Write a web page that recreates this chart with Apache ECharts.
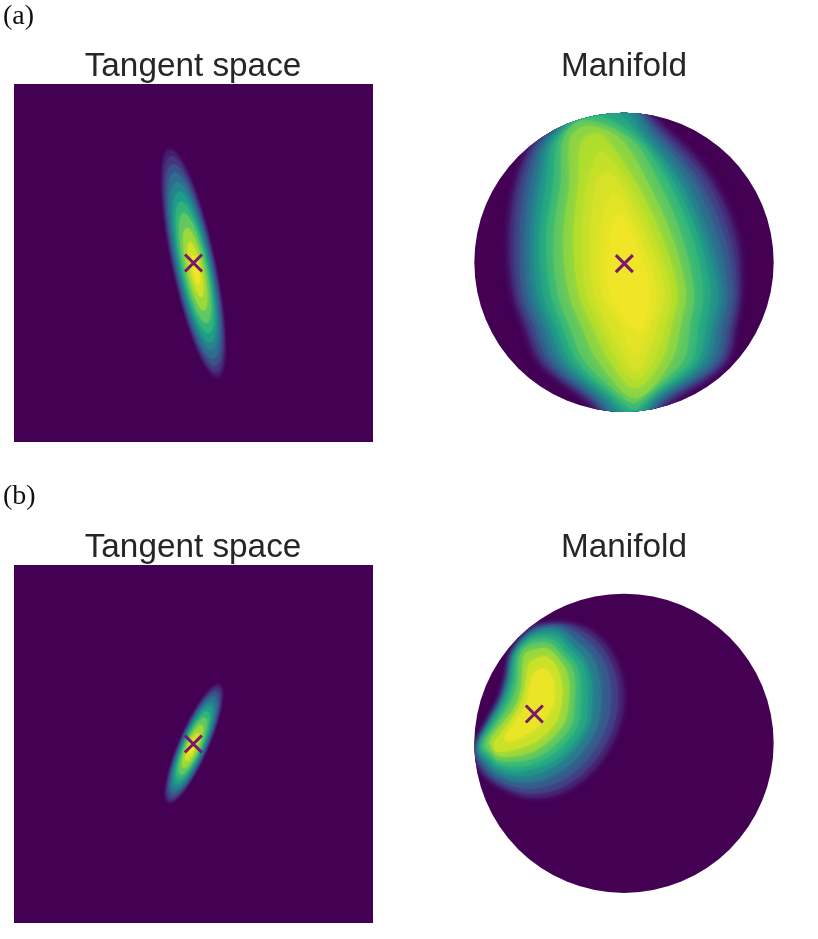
<!DOCTYPE html>
<html lang="en" style="height: 100%">
<head>
  <meta charset="utf-8">
</head>
<body style="height: 100%; margin: 0; background: #fff">
  <div id="container" style="width: 818px; height: 939px"></div>

  <script type="text/javascript" src="https://fastly.jsdelivr.net/npm/echarts@6/dist/echarts.min.js"></script>
  <script type="text/javascript">
    var viridis = ['#440154', '#482878', '#3e4989', '#31688e', '#26828e', '#1f9e89', '#35b779', '#6ece58', '#b5de2b', '#fde725'];

    // tangent space density: nested ellipses (panel pixels)
    var tangentLevels = [0.03, 0.08, 0.15, 0.25, 0.35, 0.45, 0.55, 0.65, 0.75, 0.85, 0.93, 0.98];
    var tangentAX = [179.5, 179.5, 179.7, 180, 180, 180.3, 180.5, 180.7, 181, 181.3, 181.5, 181.7];
    var tangentAY = [179, 179, 180, 181, 181.5, 182, 183, 183.5, 184, 185, 185.5, 186];
    var tangentAMajor = [118, 115, 110, 103, 95, 86, 77, 67, 56, 42, 28, 15];
    var tangentAMinor = [21.5, 21, 20, 19, 17.5, 16, 14.5, 13, 11, 8.5, 5.5, 3];
    var tangentBX = [180, 180, 180, 179.8, 179.6, 179.4, 179.2, 179, 178.8, 178.5, 178.2, 178];
    var tangentBY = [178.7, 178.7, 179, 179.3, 179.6, 180, 180.3, 180.6, 181, 181.4, 181.8, 182];
    var tangentBMajor = [65, 63.6, 60.8, 57, 52.5, 47.6, 42.6, 37, 31, 23.2, 15.5, 8.3];
    var tangentBMinor = [14.5, 14.1, 13.5, 12.8, 11.8, 10.8, 9.8, 8.7, 7.4, 5.7, 3.7, 2];

    // manifold density: contour outlines, x,y pairs
    var manifoldALevels = [0.04, 0.1, 0.18, 0.26, 0.34, 0.42, 0.5, 0.58, 0.66, 0.74, 0.82, 0.88, 0.91, 0.94, 0.96, 0.98];
    var manifoldAContours = [
      [430,-30, 625,100, 733,230, 805,400, 815,560, 799,660, 770,770, 640,870, 470,960, 325,870, 205,770, 159,660, 125,560, 113,400, 137,230, 200,100],
      [430,-30, 610,100, 726,230, 797,400, 808,560, 793,660, 764,770, 625,870, 470,960, 340,870, 212,770, 166,660, 132,560, 120,400, 142,230, 205,100],
      [430,-30, 595,100, 712,230, 782,400, 800,560, 784,660, 755,770, 612,870, 470,960, 350,870, 224,770, 176,660, 142,560, 132,400, 152,230, 212,100],
      [430,-30, 580,100, 690,230, 765,400, 790,560, 774,660, 745,770, 600,870, 470,960, 360,870, 238,770, 190,660, 155,560, 148,400, 166,230, 222,100],
      [435,-30, 565,100, 672,230, 745,400, 773,560, 758,660, 730,770, 585,870, 470,960, 372,870, 252,770, 204,660, 170,560, 163,400, 182,230, 232,100],
      [440,-20, 550,100, 650,230, 722,400, 757,560, 742,660, 715,770, 572,870, 475,960, 385,870, 268,770, 220,660, 185,560, 178,400, 198,230, 240,100],
      [440,-5, 530,100, 630,230, 705,400, 745,560, 728,660, 697,770, 562,870, 490,950, 400,870, 285,770, 236,660, 200,560, 192,400, 212,230, 250,100],
      [420,15, 515,100, 612,230, 688,400, 722,560, 708,660, 682,770, 552,870, 490,935, 415,870, 302,770, 253,660, 218,560, 208,400, 228,230, 258,100],
      [370,30, 500,100, 595,230, 668,400, 700,560, 686,660, 663,770, 535,870, 495,915, 430,870, 322,770, 274,660, 240,560, 228,400, 250,230, 268,100],
      [340,45, 480,100, 567,230, 638,400, 672,560, 660,660, 638,770, 520,870, 490,895, 450,870, 345,770, 297,660, 262,560, 250,400, 272,230, 280,100],
      [350,62, 450,100, 532,230, 608,400, 647,560, 632,660, 603,770, 497,880, 385,770, 333,660, 295,560, 280,400, 298,230, 300,100],
      [380,85, 415,110, 497,230, 578,400, 622,560, 605,660, 573,770, 495,850, 420,770, 365,660, 325,560, 310,400, 325,230, 335,110],
      [395,140, 472,230, 555,400, 603,560, 587,660, 548,770, 495,825, 445,770, 390,660, 348,560, 335,400, 352,230],
      [410,200, 447,230, 532,400, 583,560, 562,660, 523,770, 495,800, 470,770, 412,660, 370,560, 360,400, 380,230],
      [430,265, 510,400, 560,560, 543,650, 495,750, 445,650, 395,560, 390,400],
      [450,330, 490,400, 540,560, 505,680, 420,560, 420,400]
    ];
    var manifoldBLevels = [0.04, 0.08, 0.18, 0.28, 0.4, 0.5, 0.58, 0.66, 0.74, 0.84, 0.92, 0.97];
    var manifoldBContours = [
      [292,37, 370,55, 430,105, 468,180, 482,265, 465,355, 420,445, 355,515, 275,558, 190,565, 110,535, 50,490, 25,425, 60,345, 100,270, 122,200, 135,130, 200,50],
      [290,40, 367,58, 425,108, 462,182, 474,266, 459,354, 414,443, 350,511, 271,554, 188,561, 109,532, 52,488, 27,424, 62,345, 102,270, 123,200, 137,130, 200,53],
      [288,43, 359,66, 414,115, 449,186, 460,267, 445,353, 401,437, 339,503, 263,543, 183,551, 108,524, 55,482, 30,422, 64,345, 104,271, 125,202, 140,130, 201,58],
      [285,48, 348,77, 398,124, 430,192, 437,269, 424,350, 382,429, 322,491, 250,528, 175,536, 106,512, 60,476, 33,420, 67,344, 106,272, 127,204, 143,130, 201,63],
      [280,55, 333,91, 378,136, 403,200, 408,272, 397,347, 357,419, 301,475, 234,509, 165,517, 103,497, 66,468, 38,418, 71,343, 110,274, 131,207, 147,130, 202,68],
      [275,65, 320,105, 359,148, 380,207, 382,274, 373,344, 335,409, 281,461, 219,491, 156,500, 101,483, 72,460, 42,415, 76,343, 113,276, 135,210, 150,130, 202,74],
      [270,75, 312,115, 350,157, 368,213, 368,276, 362,341, 322,405, 268,452, 206,477, 149,485, 99,472, 78,452, 46,413, 81,342, 118,279, 139,214, 155,130, 203,81],
      [262,88, 303,127, 337,167, 347,219, 347,278, 342,339, 304,397, 253,441, 197,465, 141,471, 97,460, 82,445, 50,410, 87,342, 124,281, 146,218, 160,130, 203,90],
      [255,100, 294,138, 324,176, 331,225, 329,280, 322,338, 287,390, 238,430, 185,451, 134,456, 95,449, 84,436, 58,405, 96,341, 132,285, 155,224, 167,130, 204,100],
      [248,116, 284,150, 307,188, 313,232, 311,282, 300,335, 266,380, 220,416, 172,435, 125,441, 93,436, 85,420, 72,395, 110,341, 150,290, 168,235, 178,135, 204,120],
      [240,140, 268,160, 286,200, 292,240, 289,285, 274,332, 242,372, 198,402, 155,416, 118,425, 90,422, 85,405, 95,385, 130,340, 160,295, 178,245, 190,165, 205,150],
      [235,175, 262,205, 268,260, 252,310, 215,352, 170,380, 130,395, 118,385, 150,335, 180,290, 192,240, 205,195]
    ];

    var discA = [462, 472, 449];
    var discB = [477, 400, 449];
    var crossTangentA = [179.5, 179];
    var crossTangentB = [179.3, 179];
    var crossManifoldA = [463, 476];
    var crossManifoldB = [208, 312];
    var crossColor = '#7a1570';

    var myChart = echarts.init(document.getElementById('container'), null, { renderer: 'canvas' });

    function axis(gridIndex, min, max, inverse) {
      return { type: 'value', gridIndex: gridIndex, min: min, max: max, inverse: !!inverse, show: false };
    }

    function ellipseSeries(gridIndex, xs, ys, major, minor, angle) {
      return {
        type: 'custom',
        xAxisIndex: gridIndex,
        yAxisIndex: gridIndex,
        encode: { x: 1, y: 2 },
        z: 3,
        data: tangentLevels.map(function (v, i) { return [v, xs[i], ys[i], major[i], minor[i]]; }),
        renderItem: function (params, api) {
          var c = api.coord([api.value(1), api.value(2)]);
          var s = api.size([api.value(4), api.value(3)]);
          var color = api.visual('color');
          return {
            type: 'ellipse',
            x: c[0],
            y: c[1],
            rotation: angle * Math.PI / 180,
            shape: { cx: 0, cy: 0, rx: s[0], ry: s[1] },
            style: { fill: color, shadowBlur: 3, shadowColor: color }
          };
        }
      };
    }

    function contourSeries(gridIndex, levels, contours, disc, blur) {
      return {
        type: 'custom',
        xAxisIndex: gridIndex,
        yAxisIndex: gridIndex,
        z: 3,
        data: levels.map(function (v) { return [v, 0]; }),
        renderItem: function (params, api) {
          var flat = contours[params.dataIndex];
          var points = [];
          for (var i = 0; i < flat.length; i += 2) {
            points.push(api.coord([flat[i], flat[i + 1]]));
          }
          var c = api.coord([disc[0], disc[1]]);
          var color = api.visual('color');
          return {
            type: 'polygon',
            shape: { points: points, smooth: 0.33, smoothConstraint: false },
            clipPath: { type: 'circle', shape: { cx: c[0], cy: c[1], r: api.size([disc[2], 0])[0] } },
            style: { fill: color, shadowBlur: blur, shadowColor: color }
          };
        }
      };
    }

    // the discs sit under the contours
    function discSeries(gridIndex, disc) {
      return {
        type: 'custom',
        xAxisIndex: gridIndex,
        yAxisIndex: gridIndex,
        silent: true,
        z: 2,
        data: [disc],
        renderItem: function (params, api) {
          var c = api.coord([api.value(0), api.value(1)]);
          return {
            type: 'circle',
            shape: { cx: c[0], cy: c[1], r: api.size([api.value(2), 0])[0] },
            style: { fill: viridis[0] }
          };
        }
      };
    }

    function crossSeries(gridIndex, point) {
      return {
        type: 'scatter',
        xAxisIndex: gridIndex,
        yAxisIndex: gridIndex,
        silent: true,
        symbol: 'path://M0,0L10,10M10,0L0,10',
        symbolSize: 17,
        itemStyle: { color: 'transparent', borderColor: crossColor, borderWidth: 3, opacity: 1 },
        data: [point],
        z: 5
      };
    }

    function titleText(text, x, y) {
      return {
        text: text,
        left: x,
        top: y,
        padding: 0,
        textAlign: 'center',
        textVerticalAlign: 'middle',
        textStyle: { fontFamily: 'Liberation Sans', fontSize: 33.3, fontWeight: 'normal', color: '#262626' }
      };
    }

    function panelLabel(text, y) {
      return {
        text: text,
        left: 3,
        top: y,
        padding: 0,
        textVerticalAlign: 'middle',
        textStyle: { fontFamily: 'Liberation Serif', fontSize: 28, fontWeight: 'normal', color: '#111' }
      };
    }

    var option = {
      animation: false,
      backgroundColor: '#fff',
      tooltip: { show: false },
      title: [
        panelLabel('(a)', 17),
        panelLabel('(b)', 497),
        titleText('Tangent space', 193, 67),
        titleText('Manifold', 624, 67),
        titleText('Tangent space', 193, 548),
        titleText('Manifold', 624, 548)
      ],
      grid: [
        { left: 14, top: 84, width: 359, height: 358, show: true, backgroundColor: viridis[0], borderWidth: 0 },
        { left: 470, top: 105, width: 310, height: 315, show: false },
        { left: 14, top: 565, width: 359, height: 358, show: true, backgroundColor: viridis[0], borderWidth: 0 },
        { left: 465, top: 590, width: 315, height: 310, show: false }
      ],
      xAxis: [axis(0, 0, 359), axis(1, 0, 930), axis(2, 0, 359), axis(3, 0, 945)],
      yAxis: [axis(0, 0, 358, true), axis(1, 0, 945, true), axis(2, 0, 358, true), axis(3, -60, 870, true)],
      visualMap: {
        show: false,
        type: 'continuous',
        min: 0,
        max: 1,
        dimension: 0,
        seriesIndex: [0, 2, 4, 5],
        inRange: { color: viridis }
      },
      series: [
        ellipseSeries(0, tangentAX, tangentAY, tangentAMajor, tangentAMinor, 12),
        discSeries(1, discA),
        contourSeries(1, manifoldALevels, manifoldAContours, discA, 10),
        discSeries(3, discB),
        ellipseSeries(2, tangentBX, tangentBY, tangentBMajor, tangentBMinor, -23.5),
        contourSeries(3, manifoldBLevels, manifoldBContours, discB, 6),
        crossSeries(0, crossTangentA),
        crossSeries(1, crossManifoldA),
        crossSeries(2, crossTangentB),
        crossSeries(3, crossManifoldB)
      ]
    };

    myChart.setOption(option);
    window.addEventListener('resize', myChart.resize);
  </script>
</body>
</html>
